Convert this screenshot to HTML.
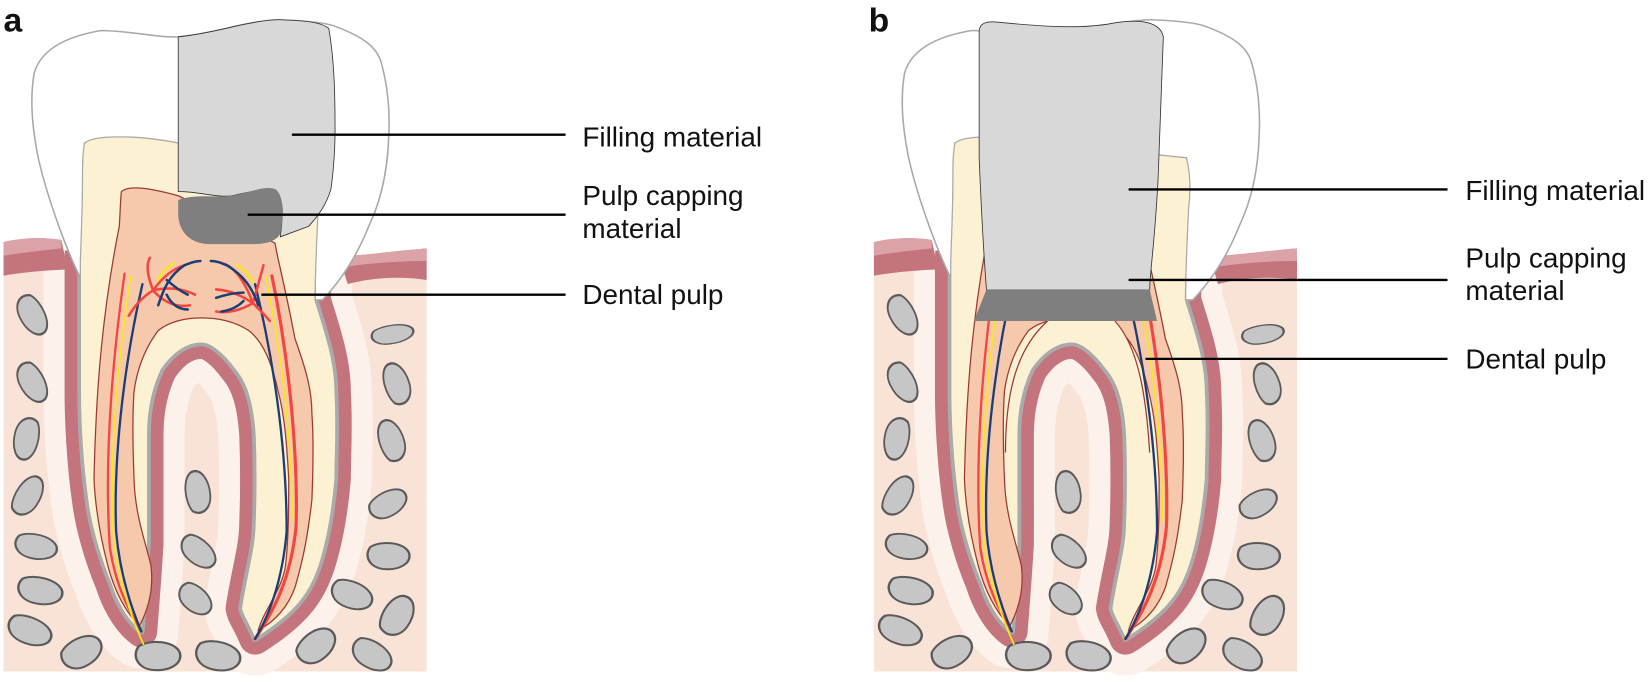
<!DOCTYPE html>
<html><head><meta charset="utf-8"><style>
html,body{margin:0;padding:0;background:#fff;}
svg{display:block;}
text{font-family:"Liberation Sans",Arial,sans-serif;fill:#111;}
</style></head><body>
<svg width="1651" height="682" viewBox="0 0 1568 648" xmlns="http://www.w3.org/2000/svg">
<defs>
<path id="D" d="M80,136 C88,128 130,128 170,136 L300,150 C305,170 303,190 302,198 C300,240 299,270 299,285 C310,320 318,345 318,372 C320,410 318,430 318,455 C315,490 310,515 303,537 C295,560 285,580 242,607 C236,592 230,585 229,578 C235,540 242,520 242,496 C243,470 243,440 242,413 C240,385 235,365 223,351 C212,336 200,326 191,326 C175,326 162,338 153,351 C144,370 140,390 140,413 C140,450 140,480 140,517 C138,550 136,575 134,600 C120,590 110,570 105,554 C95,530 86,500 83,475 C78,440 76,400 76,372 C76,330 76,290 76,248 C77,220 78,195 78,174 C78,160 78,145 80,136 Z"/>
<path id="E" d="M76,264 C64,240 45,190 36,150 C30,120 28,95 32,70 C38,48 60,35 96,29 C130,30 150,36 169,35 C190,33 210,28 223,25 C245,20 260,18 271,19 C295,20 310,22 318,25 C345,35 358,45 362,60 C369,85 370,110 369,130 C368,160 362,190 350,215 C340,240 325,265 306,285 L299,285 L300,150 L80,136 C78,170 78,220 76,264 Z"/>
<path id="P" d="M115,182 C122,176 140,178 169,186 L261,231 C263,245 268,260 280,322 C290,350 296,370 296,393 C298,420 297,450 296,475 C292,510 288,530 280,558 C272,580 258,592 245,599 C250,580 268,560 271,537 C274,510 274,480 274,455 C272,420 270,395 264,372 C258,345 250,325 236,314 C222,305 205,302 191,302 C175,302 160,306 150,314 C138,330 130,350 127,372 C125,400 126,430 127,455 C128,490 138,515 143,537 C146,560 140,580 132,595 C118,580 108,560 102,537 C95,510 90,480 89,455 C90,410 92,370 96,330 C100,290 106,250 113,215 C114,200 114,190 115,182 Z"/>
<path id="S" d="M-11,-7 C-5,-12 9,-11 12,-3 C14,5 6,10 -3,9 C-11,8 -15,0 -11,-7Z" fill="#c6c6c6" stroke="#5a5a5a" stroke-width="1.4"/>
<clipPath id="cb"><rect x="0" y="238" width="420" height="420"/></clipPath>
<g id="base">
  <rect x="3" y="245" width="402" height="393" fill="#f9e2d6"/>
  <g clip-path="url(#cb)"><use href="#D" fill="none" stroke="#fdf1eb" stroke-width="70" stroke-linejoin="round"/>
  <use href="#D" fill="none" stroke="#c3747c" stroke-width="30" stroke-linejoin="round"/>
  <use href="#D" fill="none" stroke="#aaa" stroke-width="6" stroke-linejoin="round"/></g>
  <path d="M3,230 C20,226 40,225 58,228 L64,256 C40,257 20,259 3,262 Z" fill="#c3747c"/>
  <path d="M3,230 C20,226 40,225 58,228 L58,236 C40,238 20,240 3,243 Z" fill="#dba3a7"/>
  <path d="M322,244 C350,242 380,238 405,236 L405,266 C380,262 350,264 330,270 Z" fill="#c3747c"/>
  <path d="M322,244 C350,242 380,238 405,236 L405,248 C380,248 350,250 325,254 Z" fill="#dba3a7"/>
  <use href="#E" fill="#fff" stroke="#a9a9a9" stroke-width="1.5"/>
  <use href="#D" fill="#fdf1d4" stroke="#a9a9a9" stroke-width="1.2"/>
  <use href="#P" fill="#f6c9ad" stroke="#9b3a35" stroke-width="1.2"/>
  <use href="#S" transform="translate(30,300) rotate(60) scale(1.6,1.2)"/>
  <use href="#S" transform="translate(30,364) rotate(60) scale(1.6,1.2)"/>
  <use href="#S" transform="translate(24,417) rotate(100) scale(1.6,1.2)"/>
  <use href="#S" transform="translate(27,471) rotate(-60) scale(1.6,1.2)"/>
  <use href="#S" transform="translate(34,520) rotate(10) scale(1.6,1.2)"/>
  <use href="#S" transform="translate(38,562) rotate(10) scale(1.7,1.3)"/>
  <use href="#S" transform="translate(28,600) rotate(20) scale(1.7,1.3)"/>
  <use href="#S" transform="translate(78,620) rotate(-30) scale(1.6,1.4)"/>
  <use href="#S" transform="translate(150,624) rotate(0) scale(1.7,1.4)"/>
  <use href="#S" transform="translate(207,624) rotate(10) scale(1.7,1.4)"/>
  <use href="#S" transform="translate(301,614) rotate(-40) scale(1.6,1.4)"/>
  <use href="#S" transform="translate(353,623) rotate(30) scale(1.6,1.3)"/>
  <use href="#S" transform="translate(378,585) rotate(-60) scale(1.6,1.4)"/>
  <use href="#S" transform="translate(334,566) rotate(20) scale(1.6,1.3)"/>
  <use href="#S" transform="translate(369,529) rotate(0) scale(1.6,1.3)"/>
  <use href="#S" transform="translate(369,479) rotate(-30) scale(1.5,1.2)"/>
  <use href="#S" transform="translate(372,418) rotate(-110) scale(1.6,1.2)"/>
  <use href="#S" transform="translate(377,364) rotate(-110) scale(1.6,1.2)"/>
  <use href="#S" transform="translate(373,318) rotate(-10) scale(1.6,0.9)"/>
  <use href="#S" transform="translate(188,467) rotate(-100) scale(1.6,1.2)"/>
  <use href="#S" transform="translate(188,525) rotate(40) scale(1.5,1.2)"/>
  <use href="#S" transform="translate(185,570) rotate(40) scale(1.4,1.2)"/>
</g>
<g id="canals" fill="none" stroke-width="2.2" stroke-linecap="round">
  <path d="M118,260 C108,330 98,430 104,520 C110,560 125,585 134,600" stroke="#f4453e"/>
  <path d="M124,262 C113,335 102,430 108,520 C116,565 128,595 136,612" stroke="#f7e81a" stroke-width="1.6"/>
  <path d="M135,270 C120,335 107,425 110,505 C114,552 128,586 134,600" stroke="#1d3e74"/>
  <path d="M258,262 C272,330 283,420 281,500 C276,550 260,580 242,607" stroke="#f4453e" stroke-width="3"/>
  <path d="M252,262 C266,330 278,420 277,495" stroke="#f7e81a" stroke-width="1.6"/>
  <path d="M242,270 C258,335 272,420 272,505 C268,552 255,586 242,607" stroke="#1d3e74"/>
</g>
</defs>

<!-- a -->
<use href="#base"/>
<use href="#canals"/>
<g fill="none" stroke-width="2.4" stroke-linecap="round">
  <path d="M145,276 C140,262 138,252 142,245 M145,276 C155,262 165,255 175,252 M145,276 C160,272 175,275 185,280 M145,276 C158,290 170,292 180,290 M145,276 C135,282 128,290 122,300" stroke="#f4453e"/>
  <path d="M240,288 C245,270 248,260 250,252 M240,288 C228,280 218,276 205,275 M240,288 C228,295 215,298 205,296 M240,288 C230,262 220,252 210,250 M240,288 C248,296 252,300 256,305" stroke="#f4453e"/>
  <path d="M150,266 C155,258 160,252 165,250 M240,268 C235,260 230,255 225,252" stroke="#f7e81a"/>
  <path d="M150,290 C155,275 160,262 175,252 C180,250 185,248 190,248 M158,266 C165,272 170,276 178,280 M158,280 C163,290 170,294 178,294" stroke="#1d3e74"/>
  <path d="M245,290 C240,275 232,262 215,252 C210,250 206,248 200,248 M231,278 C222,278 214,280 205,283 M231,286 C225,292 218,295 210,296" stroke="#1d3e74"/>
</g>
<path d="M169,35 C190,33 210,28 223,25 C245,20 260,18 271,19 C295,20 306,22 312,27 C318,60 318,100 318,124 C318,150 315,174 314,180 C308,200 296,211 293,215 L266,225 C269,200 269,190 262,182 C250,178 240,182 220,186 C205,188 190,182 169,182 Z" fill="#d8d8d8" stroke="#333" stroke-width="0.8"/>
<path d="M169,190 C185,184 205,188 220,186 C240,182 252,176 262,180 C270,188 269,205 266,222 C262,230 250,232 240,232 L200,232 C180,232 170,220 169,205 Z" fill="#7f7f7f"/>

<!-- b -->
<g transform="translate(827,0)">
  <use href="#base"/>
  <path d="M128,430 C128,370 140,330 168,305 L232,305 C255,330 262,380 265,430 L242,413 C242,380 235,355 223,351 C215,335 200,326 191,326 C175,326 160,340 153,351 C145,370 140,390 140,413 Z" fill="#fdf1d4"/>
  <path d="M140,413 C140,390 144,370 153,351 C162,338 175,326 191,326 C200,326 212,336 223,351 C235,365 240,385 242,413" fill="none" stroke="#a9a9a9" stroke-width="1.2"/>
  <path d="M128,430 C128,370 140,330 168,305 M265,430 C262,380 255,330 232,305" fill="none" stroke="#9b3a35" stroke-width="1.2"/>
  <use href="#canals"/>
  <path d="M103,30 C103,22 110,20 120,21 C160,25 200,28 230,22 C255,18 275,20 278,35 L273,170 C270,230 265,260 265,276 L110,276 C108,250 105,200 103,150 Z" fill="#d8d8d8" stroke="#333" stroke-width="0.8"/>
  <path d="M110,275 L265,275 L272,305 L98,305 Z" fill="#7f7f7f"/>
</g>

<g stroke="#000" stroke-width="2.2">
  <line x1="277" y1="128" x2="537" y2="128"/>
  <line x1="235" y1="204" x2="537" y2="204"/>
  <line x1="248" y1="280" x2="537" y2="280"/>
  <line x1="1072" y1="180" x2="1375" y2="180"/>
  <line x1="1072" y1="266" x2="1375" y2="266"/>
  <line x1="1088" y1="341" x2="1375" y2="341"/>
</g>
<text x="3" y="30" font-size="32" font-weight="bold">a</text>
<text x="825" y="30" font-size="32" font-weight="bold">b</text>
<g font-size="26.5">
  <text x="553" y="139">Filling material</text>
  <text x="553" y="195">Pulp capping</text>
  <text x="553" y="226">material</text>
  <text x="553" y="289">Dental pulp</text>
  <text x="1392" y="190">Filling material</text>
  <text x="1392" y="254">Pulp capping</text>
  <text x="1392" y="285">material</text>
  <text x="1392" y="350">Dental pulp</text>
</g>
</svg>
</body></html>
